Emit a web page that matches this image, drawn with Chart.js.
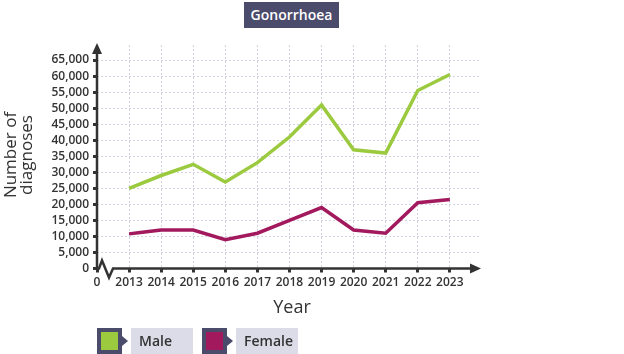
<!DOCTYPE html>
<html>
<head>
<meta charset="utf-8">
<script src="https://cdn.jsdelivr.net/npm/chart.js@4/dist/chart.umd.min.js"></script>
<style>
  html, body { margin: 0; padding: 0; background: #fff; }
  #wrap { position: relative; width: 624px; height: 354px; overflow: hidden; font-family: "Open Sans", sans-serif; color: #333; }
  #c { position: absolute; left: 0; top: 0; }
  #title { position: absolute; left: 244px; top: 2px; width: 95px; height: 26px; background: #4b4b6b; color: #fff; font-weight: 600; font-size: 14px; line-height: 26px; text-align: center; }
  #ytitle { position: absolute; left: -41px; top: 138px; width: 120px; height: 34px; font-size: 17px; line-height: 16px; text-align: center; transform: rotate(-90deg); transform-origin: 50% 50%; }
  #xtitle { position: absolute; left: 252px; top: 295px; width: 80px; font-size: 18px; line-height: 22px; text-align: center; }
  .sw { position: absolute; top: 328px; width: 25px; height: 26px; background: #4b4b6b; box-sizing: border-box; }
  .sw i { position: absolute; left: 4px; top: 4px; right: 4px; bottom: 4px; display: block; }
  .arr { position: absolute; top: 336px; width: 0; height: 0; border-top: 5px solid transparent; border-bottom: 5px solid transparent; border-left: 6px solid #4b4b6b; }
  .lb { position: absolute; top: 328px; height: 26px; background: #dcdce9; font-weight: 600; font-size: 14px; line-height: 26px; padding-left: 8px; box-sizing: border-box; color: #333; }
</style>
</head>
<body>
<div id="wrap">
  <canvas id="c" width="624" height="354"></canvas>
  <div id="title">Gonorrhoea</div>
  <div id="ytitle">Number of<br>diagnoses</div>
  <div id="xtitle">Year</div>
  <div id="legend"></div>
</div>
<script>
// ---- data ----
const chartTitle = "Gonorrhoea";
const maleYears = [2013, 2014, 2015, 2016, 2017, 2018, 2019, 2020, 2021, 2022, 2023];
const maleValues = [25000, 29000, 32500, 27000, 33000, 41000, 51000, 37000, 36000, 55500, 60500];
const femaleYears = [2013, 2013.35, 2014, 2015, 2016, 2017, 2018, 2019, 2020, 2021, 2022, 2023];
const femaleValues = [10800, 11200, 12000, 12000, 9000, 11000, 15000, 19000, 12000, 11000, 20500, 21500];
const xTickValues = [2012, 2013, 2014, 2015, 2016, 2017, 2018, 2019, 2020, 2021, 2022, 2023];
const xTickLabels = ["0", "2013", "2014", "2015", "2016", "2017", "2018", "2019", "2020", "2021", "2022", "2023"];
const yTickValues = [0, 5000, 10000, 15000, 20000, 25000, 30000, 35000, 40000, 45000, 50000, 55000, 60000, 65000];
const seriesNames = ["Male", "Female"];
const seriesColors = ["#9bca3e", "#a21a5d"];

// ---- legend (HTML) ----
(function () {
  const leg = document.getElementById('legend');
  const pos = [{ sw: 97, lb: 131, w: 62 }, { sw: 202, lb: 236, w: 62 }];
  seriesNames.forEach((n, i) => {
    const p = pos[i];
    leg.insertAdjacentHTML('beforeend',
      `<div class="sw" style="left:${p.sw}px"><i style="background:${seriesColors[i]}"></i></div>` +
      `<div class="arr" style="left:${p.sw + 25}px"></div>` +
      `<div class="lb" style="left:${p.lb}px;width:${p.w}px">${n}</div>`);
  });
})();

const toPts = (xs, ys) => xs.map((x, i) => ({ x: x, y: ys[i] }));

const axisPlugin = {
  id: 'axes',
  afterDraw(chart) {
    const ctx = chart.ctx;
    const xs = chart.scales.x, ys = chart.scales.y;
    const x0 = xs.getPixelForValue(2012);
    const y0 = ys.getPixelForValue(0);
    const top = chart.chartArea.top;
    const right = chart.chartArea.right;
    ctx.save();
    ctx.strokeStyle = '#333';
    ctx.fillStyle = '#333';
    ctx.lineWidth = 2.5;
    ctx.lineJoin = 'miter';
    // y axis
    ctx.beginPath();
    ctx.moveTo(x0, y0 + 1);
    ctx.lineTo(x0, top + 8);
    ctx.stroke();
    ctx.beginPath();
    ctx.moveTo(x0, top - 2);
    ctx.lineTo(x0 - 5, top + 9);
    ctx.lineTo(x0 + 5, top + 9);
    ctx.closePath();
    ctx.fill();
    // x axis with break
    ctx.beginPath();
    ctx.moveTo(x0, y0);
    ctx.lineTo(x0 + 2, y0);
    ctx.lineTo(x0 + 5, y0 - 8);
    ctx.lineTo(x0 + 12, y0 + 9);
    ctx.lineTo(x0 + 16, y0);
    ctx.lineTo(right - 8, y0);
    ctx.stroke();
    ctx.beginPath();
    ctx.moveTo(right + 1, y0);
    ctx.lineTo(right - 10, y0 - 5);
    ctx.lineTo(right - 10, y0 + 5);
    ctx.closePath();
    ctx.fill();
    ctx.restore();
  }
};

const font = { family: "'Open Sans', sans-serif", size: 12, weight: '600' };

new Chart(document.getElementById('c'), {
  type: 'line',
  data: {
    datasets: [
      { label: seriesNames[0], data: toPts(maleYears, maleValues), borderColor: seriesColors[0], borderWidth: 3.5, pointRadius: 0, tension: 0, fill: false },
      { label: seriesNames[1], data: toPts(femaleYears, femaleValues), borderColor: seriesColors[1], borderWidth: 3.5, pointRadius: 0, tension: 0, fill: false }
    ]
  },
  options: {
    responsive: false,
    animation: false,
    devicePixelRatio: 1,
    layout: { padding: { left: 0, top: 45, right: 144, bottom: 0 } },
    plugins: { legend: { display: false }, tooltip: { enabled: false }, title: { display: false } },
    scales: {
      x: {
        type: 'linear', min: 2012, max: 2023.94,
        afterBuildTicks: s => { s.ticks = xTickValues.map(v => ({ value: v })); },
        afterFit: s => { s.height = 85.5; },
        ticks: {
          font: font, color: '#333', padding: 3, maxRotation: 0, autoSkip: false,
          callback: (v) => { const i = xTickValues.indexOf(v); return i >= 0 ? xTickLabels[i] : ''; }
        },
        grid: {
          color: (c) => (c.tick && c.tick.value === 2012) ? 'rgba(0,0,0,0)' : '#d3d3e2',
          lineWidth: 1, tickColor: '#333', tickLength: 4, tickWidth: 3, tickBorderDash: []
        },
        border: { display: false, dash: [2, 2] }
      },
      y: {
        type: 'linear', min: 0, max: 69700,
        afterBuildTicks: s => { s.ticks = yTickValues.map(v => ({ value: v })); },
        afterFit: s => { s.width = 97; },
        ticks: {
          font: font, color: '#333', padding: 4, autoSkip: false,
          callback: (v) => v.toLocaleString('en-US')
        },
        grid: {
          color: (c) => (c.tick && c.tick.value === 0) ? 'rgba(0,0,0,0)' : '#d3d3e2',
          lineWidth: 1, tickColor: '#333', tickLength: 4, tickWidth: 3, tickBorderDash: []
        },
        border: { display: false, dash: [2, 2] }
      }
    }
  },
  plugins: [axisPlugin]
});
</script>
</body>
</html>
